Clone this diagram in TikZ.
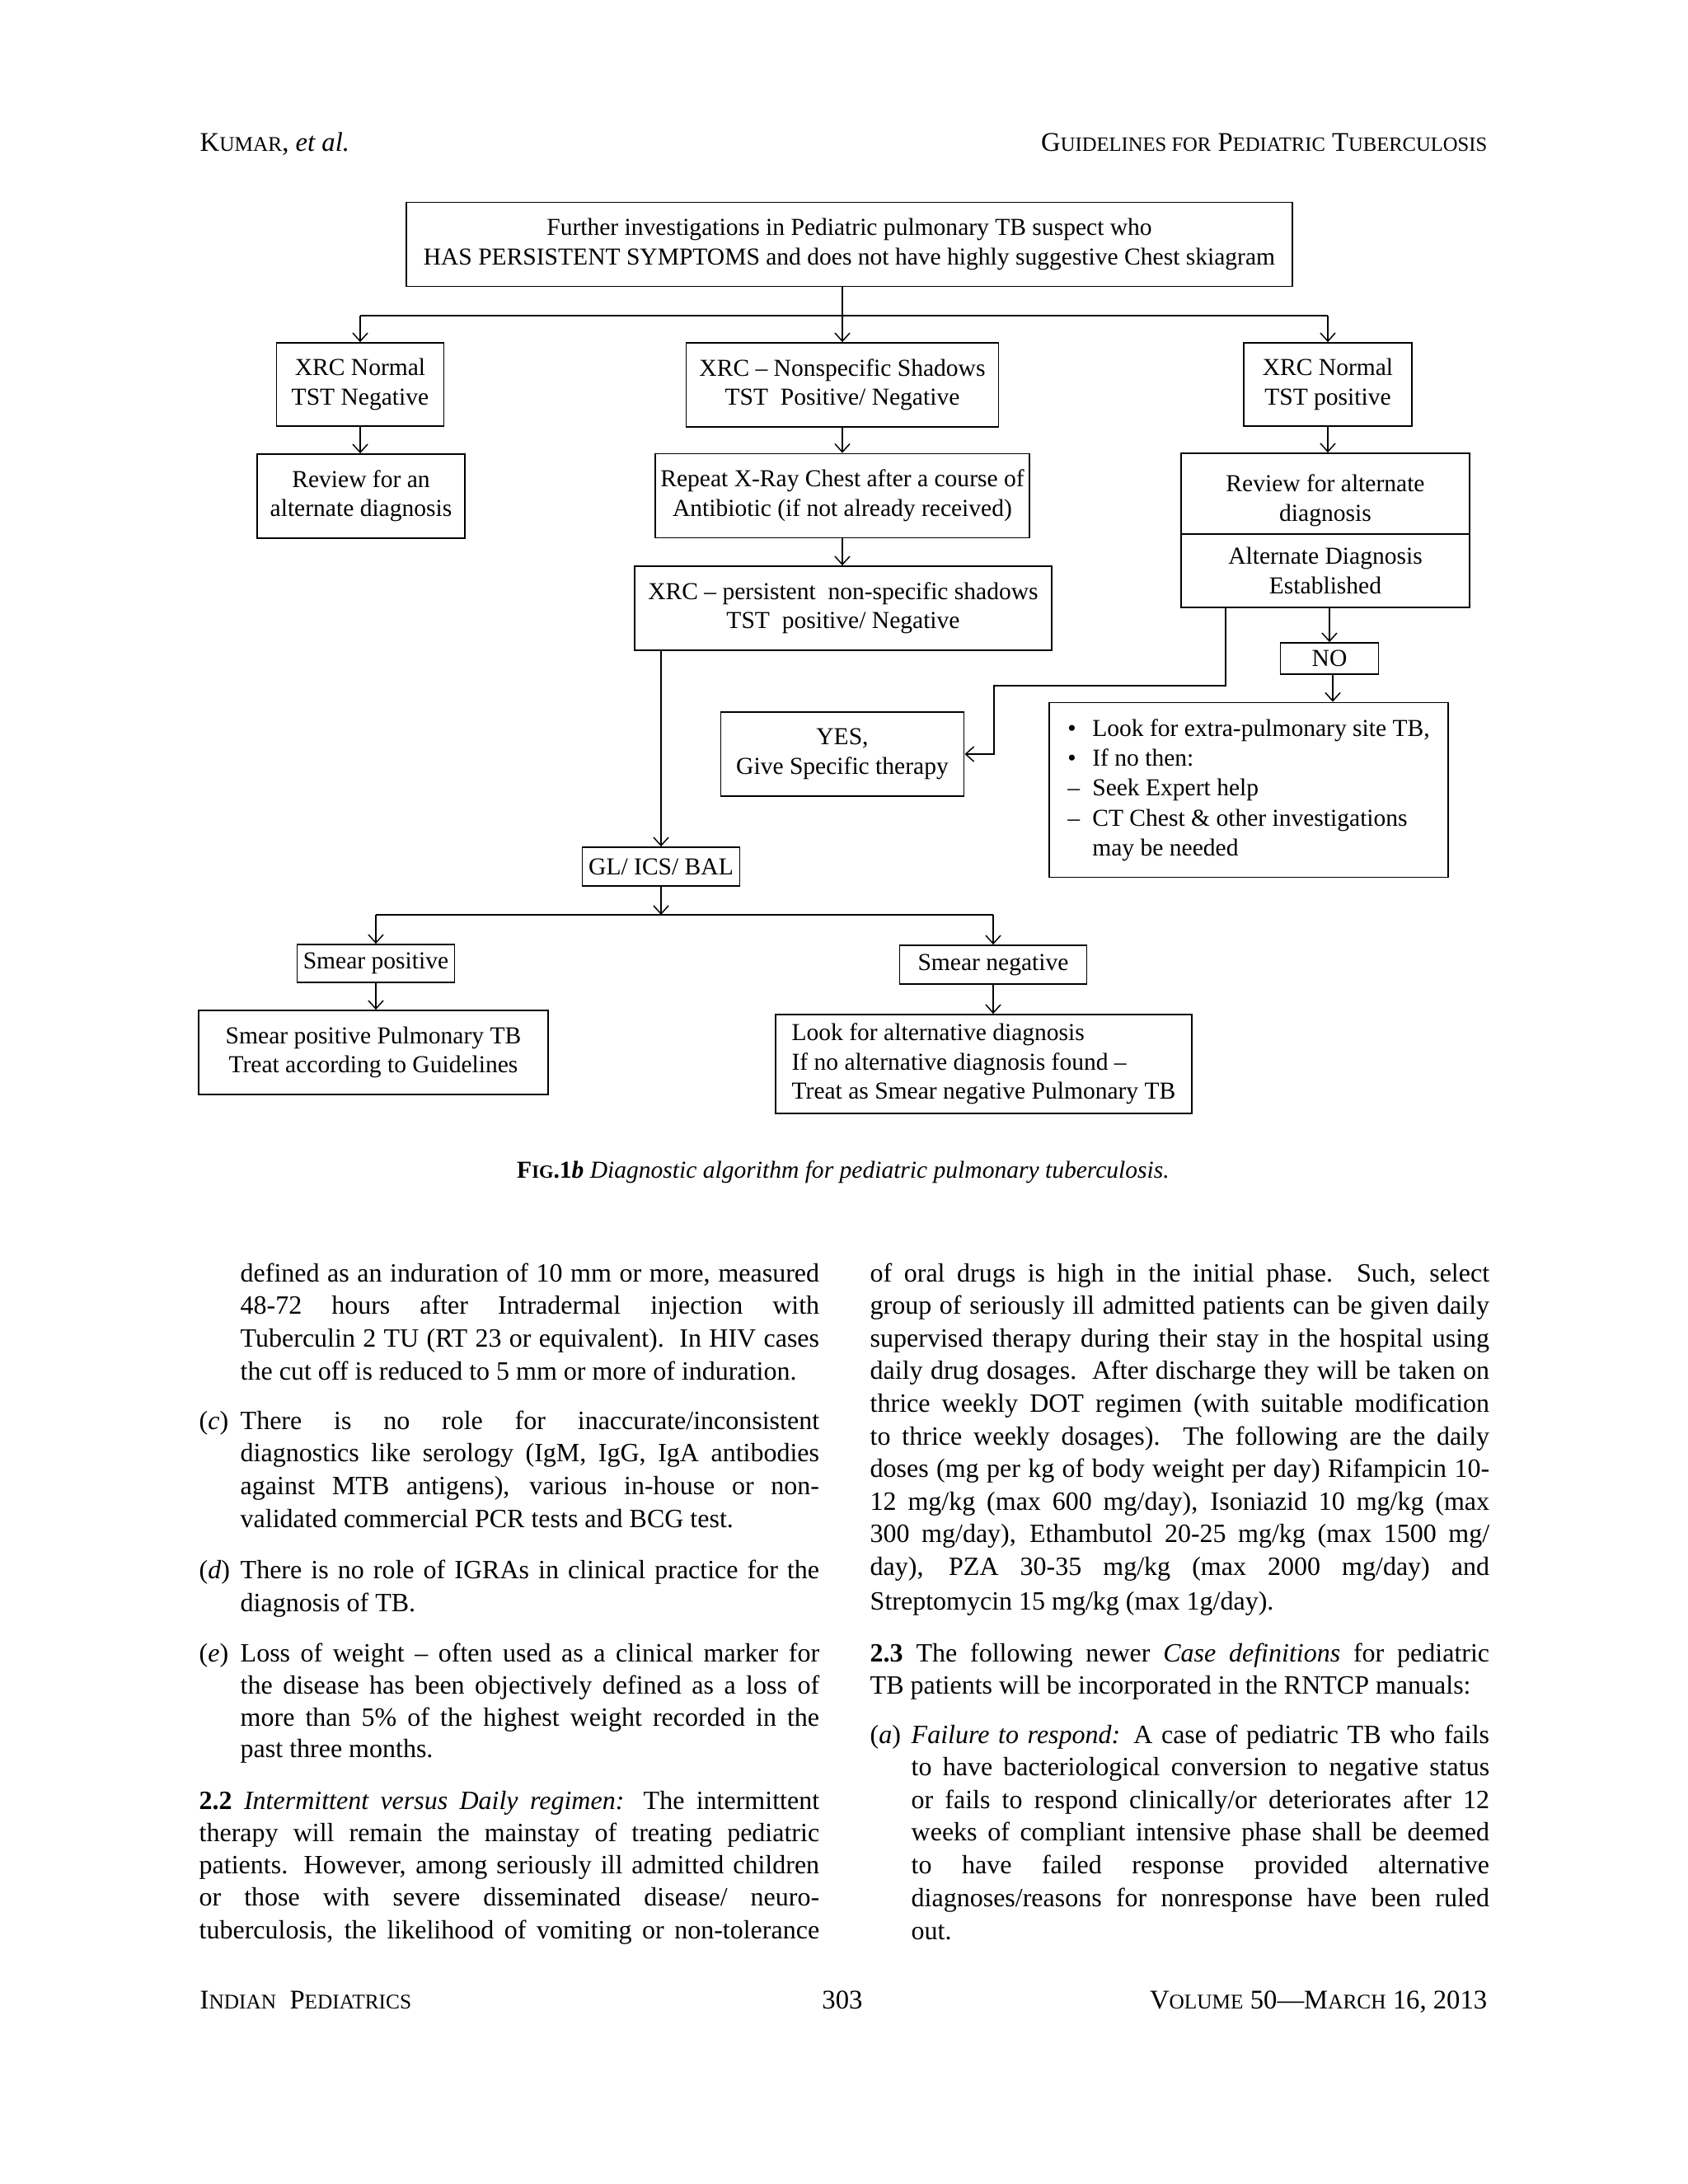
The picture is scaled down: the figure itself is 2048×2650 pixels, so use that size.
\documentclass[tikz,border=0pt]{standalone}
\usepackage{fontspec}
\setmainfont{Liberation Serif}
\usetikzlibrary{arrows.meta}

\newcommand\flowfont{\fontsize{8.4}{10.1}\selectfont}
\newcommand\bodyfont{\fontsize{9.1}{11.2}\selectfont}
\newcommand\headfont{\fontsize{9.3}{11.2}\selectfont}
\newcommand\fsc[2]{#1{\fontsize{7.2}{8}\selectfont #2}}
\newcommand\fscs[2]{#1{\fontsize{7.0}{8}\selectfont #2}}
\newcommand\jl[2]{\makebox[#1][s]{#2}}

\tikzset{
  box/.style={draw, line width=0.5pt, inner sep=0pt, align=center, font=\flowfont},
  conn/.style={line width=0.42pt},
  arr/.style={conn, -{Straight Barb[length=1.0mm,width=1.8mm]}},
  txt/.style={anchor=base west, inner sep=0pt, font=\bodyfont},
}

\begin{document}
\begin{tikzpicture}[x=0.01cm, y=-0.01cm]
    \fill[white] (0,0) rectangle (2048,2650);
    \useasboundingbox (0,0) rectangle (2048,2650);

    % Running head
    \node[txt, font=\headfont] (headL) at (242,183) {\fsc{K}{UMAR}, \textit{et al.}};
    \node[txt, font=\headfont, anchor=base east] (headR) at (1805,183) {\fscs{G}{UIDELINES FOR} \fscs{P}{EDIATRIC} \fscs{T}{UBERCULOSIS}};

    % Flowchart boxes
    \node[box, minimum width=10.75cm, minimum height=1.02cm] (top) at (1030.5,296.5)
        {Further investigations in Pediatric pulmonary TB suspect who\\HAS PERSISTENT SYMPTOMS and does not have highly suggestive Chest skiagram};
    \node[box, minimum width=2.03cm, minimum height=1.01cm] (xrcL) at (437,466.5) {XRC Normal\\TST Negative};
    \node[box, minimum width=3.79cm, minimum height=1.02cm] (xrcM) at (1022,467) {XRC -- Nonspecific Shadows\\TST\ \ Positive/ Negative};
    \node[box, minimum width=2.04cm, minimum height=1.01cm] (xrcR) at (1611,466.5) {XRC Normal\\TST positive};
    \node[box, minimum width=2.52cm, minimum height=1.02cm] (revL) at (438,602) {Review for an\\alternate diagnosis};
    \node[box, minimum width=4.54cm, minimum height=1.02cm] (repM) at (1022,601.5) {Repeat X-Ray Chest after a course of\\Antibiotic (if not already received)};
    \node[box, minimum width=3.50cm, minimum height=0.98cm] (revR) at (1608,599) {\rule{0pt}{0.37cm}Review for alternate\\diagnosis};
    \node[box, minimum width=3.50cm, minimum height=0.89cm] (estab) at (1608,692.5) {Alternate Diagnosis\\Established};
    \node[box, minimum width=5.05cm, minimum height=1.02cm] (persM) at (1023,738) {XRC -- persistent\ \ non-specific shadows\\TST\ \ positive/ Negative};
    \node[box, minimum width=1.19cm, minimum height=0.38cm] (no) at (1613,799) {NO};
    \node[box, minimum width=4.83cm, minimum height=2.12cm, align=left,
          font=\fontsize{8.4}{10.33}\selectfont] (list) at (1515,958.5)
        {\makebox[0.30cm][l]{\textbullet}Look for extra-pulmonary site TB,\\
         \makebox[0.30cm][l]{\textbullet}If no then:\\
         \makebox[0.30cm][l]{--}Seek Expert help\\
         \makebox[0.30cm][l]{--}CT Chest \& other investigations\\
         \hspace*{0.30cm}may be needed};
    \node[box, minimum width=2.95cm, minimum height=1.02cm] (yes) at (1022,915) {YES,\\Give Specific therapy};
    \node[box, minimum width=1.91cm, minimum height=0.47cm] (gl) at (802,1051.5) {GL/ ICS/ BAL};
    \node[box, minimum width=1.91cm, minimum height=0.46cm] (spos) at (456,1169) {Smear positive};
    \node[box, minimum width=2.27cm, minimum height=0.47cm] (sneg) at (1205,1170.5) {Smear negative};
    \node[box, minimum width=4.24cm, minimum height=1.02cm] (sposres) at (453,1277) {Smear positive Pulmonary TB\\Treat according to Guidelines};
    \node[box, minimum width=5.05cm, minimum height=1.20cm, align=left] (snegres) at (1193.5,1291)
        {Look for alternative diagnosis\\If no alternative diagnosis found --\\Treat as Smear negative Pulmonary TB};

    % Connectors
    \coordinate (busL) at (437,383);
    \coordinate (busR) at (1611,383);
    \draw[conn] (xrcM.north |- top.south) -- (xrcM.north |- busL);
    \draw[conn] (busL) -- (busR);
    \draw[arr] (busL) -- (xrcL.north);
    \draw[arr] (xrcM.north |- busL) -- (xrcM.north);
    \draw[arr] (busR) -- (xrcR.north);
    \draw[arr] (xrcL.south) -- (xrcL.south |- revL.north);
    \draw[arr] (xrcM.south) -- (xrcM.south |- repM.north);
    \draw[arr] (xrcR.south) -- (xrcR.south |- revR.north);
    \draw[arr] (repM.south) -- (repM.south |- persM.north);
    \draw[arr] (no.north |- estab.south) -- (no.north);
    \draw[arr] ([xshift=0.04cm]no.south) -- ([xshift=0.04cm]no.south |- list.north);
    \coordinate (yesbend) at (1206,832);
    \draw[arr] ([xshift=-1.21cm]estab.south) |- (yesbend) |- (yes.east);
    \draw[arr] (persM.south -| gl.north) -- (gl.north);
    \coordinate (busL2) at (456,1110);
    \coordinate (busR2) at (1205,1110);
    \draw[arr] (gl.south) -- (gl.south |- busL2);
    \draw[conn] (busL2) -- (busR2);
    \draw[arr] (busL2) -- (spos.north);
    \draw[arr] (busR2) -- (sneg.north);
    \draw[arr] (spos.south) -- (spos.south |- sposres.north);
    \draw[arr] (sneg.south) -- (sneg.south |- snegres.north);

    % Caption
    \node[anchor=base, inner sep=0pt, font=\flowfont] (cap) at (1023,1429)
        {\textbf{F{\fontsize{6.4}{8}\selectfont IG}.1\textit{b}} \textit{Diagnostic algorithm for pediatric pulmonary tuberculosis.}};

    % Left column
    \foreach \t [count=\i from 0] in {
        {defined as an induration of 10 mm or more, measured},
        {48-72 hours after Intradermal injection with},
        {Tuberculin 2 TU (RT 23 or equivalent).\ \ In HIV cases}}
        \node[txt] (lb\i) at (291,{1555+39.6*\i}) {\jl{7.02cm}{\t}};
    \node[txt] (lb3) at (291,1674) {the cut off is reduced to 5 mm or more of induration.};

    \node[txt] (lcl) at (241,1734) {(\textit{c})};
    \foreach \t [count=\i from 0] in {
        {There is no role for inaccurate/inconsistent},
        {diagnostics like serology (IgM, IgG, IgA antibodies},
        {against MTB antigens), various in-house or non-}}
        \node[txt] (lc\i) at (291,{1734+39.6*\i}) {\jl{7.02cm}{\t}};
    \node[txt] (lc3) at (291,1853) {validated commercial PCR tests and BCG test.};

    \node[txt] (ldl) at (241,1915) {(\textit{d})};
    \node[txt] (ld0) at (291,1915) {\jl{7.02cm}{There is no role of IGRAs in clinical practice for the}};
    \node[txt] (ld1) at (291,1955) {diagnosis of TB.};

    \node[txt] (lel) at (241,2016) {(\textit{e})};
    \foreach \t [count=\i from 0] in {
        {Loss of weight -- often used as a clinical marker for},
        {the disease has been objectively defined as a loss of},
        {more than 5\% of the highest weight recorded in the}}
        \node[txt] (le\i) at (291,{2016+39*\i}) {\jl{7.02cm}{\t}};
    \node[txt] (le3) at (291,2132) {past three months.};

    \foreach \t [count=\i from 0] in {
        {\textbf{2.2} \textit{Intermittent versus Daily regimen:} The intermittent},
        {therapy will remain the mainstay of treating pediatric},
        {patients. However, among seriously ill admitted children},
        {or those with severe disseminated disease/ neuro-},
        {tuberculosis, the likelihood of vomiting or non-tolerance}}
        \node[txt] (lf\i) at (241,{2195+39.3*\i}) {\jl{7.52cm}{\t}};

    % Right column
    \foreach \t [count=\i from 0] in {
        {of oral drugs is high in the initial phase.\ \ Such, select},
        {group of seriously ill admitted patients can be given daily},
        {supervised therapy during their stay in the hospital using},
        {daily drug dosages.\ \ After discharge they will be taken on},
        {thrice weekly DOT regimen (with suitable modification},
        {to thrice weekly dosages).\ \ The following are the daily},
        {doses (mg per kg of body weight per day) Rifampicin 10-},
        {12 mg/kg (max 600 mg/day), Isoniazid 10 mg/kg (max},
        {300 mg/day), Ethambutol 20-25 mg/kg (max 1500 mg/},
        {day), PZA 30-35 mg/kg (max 2000 mg/day) and}}
        \node[txt] (ra\i) at (1055,{1555+39.6*\i}) {\jl{7.51cm}{\t}};
    \node[txt] (ra10) at (1055,1953) {Streptomycin 15 mg/kg (max 1g/day).};

    \node[txt] (rb0) at (1055,2016) {\jl{7.51cm}{\textbf{2.3} The following newer \textit{Case definitions} for pediatric}};
    \node[txt] (rb1) at (1055,2055) {TB patients will be incorporated in the RNTCP manuals:};

    \node[txt] (rcl) at (1055,2115) {(\textit{a})};
    \foreach \t [count=\i from 0] in {
        {\textit{Failure to respond:} A case of pediatric TB who fails},
        {to have bacteriological conversion to negative status},
        {or fails to respond clinically/or deteriorates after 12},
        {weeks of compliant intensive phase shall be deemed},
        {to have failed response provided alternative},
        {diagnoses/reasons for nonresponse have been ruled}}
        \node[txt] (rc\i) at (1105,{2115+39.6*\i}) {\jl{7.01cm}{\t}};
    \node[txt] (rc6) at (1105,2353) {out.};

    % Running foot
    \node[txt, font=\headfont] (footL) at (242,2437) {\fsc{I}{NDIAN}\ \ \fsc{P}{EDIATRICS}};
    \node[txt, font=\headfont, anchor=base] (footC) at (1022,2437) {303};
    \node[txt, font=\headfont, anchor=base east] (footR) at (1805,2437) {\fsc{V}{OLUME} 50---\fsc{M}{ARCH} 16, 2013};
\end{tikzpicture}
\end{document}
